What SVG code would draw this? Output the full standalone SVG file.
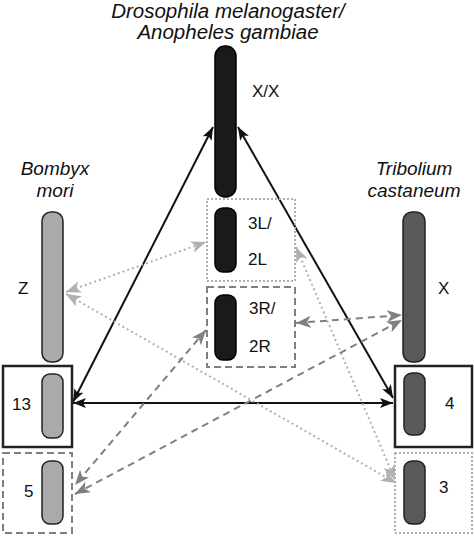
<svg xmlns="http://www.w3.org/2000/svg" width="474" height="536" viewBox="0 0 474 536">
<style>
text{font-family:"Liberation Sans",Arial,sans-serif;fill:#111}
.sp{font-size:19px;font-style:italic}
.tt{font-size:20.5px;font-style:italic}
.lb{font-size:17px}
.cb{fill:#1a1a1a;stroke:#000;stroke-width:1.5}
.cg{fill:#aaaaaa;stroke:#222;stroke-width:1.5}
.cd{fill:#595959;stroke:#222;stroke-width:1.5}
.bs{fill:none;stroke:#222;stroke-width:2.5}
.bdot{fill:none;stroke:#b0b0b0;stroke-width:2;stroke-dasharray:2 2}
.bdash{fill:none;stroke:#808080;stroke-width:2;stroke-dasharray:7 4}
.ls{stroke:#111;stroke-width:2;fill:none}
.ldot{stroke:#b0b0b0;stroke-width:2;stroke-dasharray:2 3;fill:none}
.ldash{stroke:#808080;stroke-width:2;stroke-dasharray:7 5;fill:none}
</style>
<defs>
<marker id="ab" markerUnits="userSpaceOnUse" markerWidth="14" markerHeight="10" refX="13" refY="5" orient="auto-start-reverse" viewBox="0 0 14 10"><path d="M0,0 L13,5 L0,10 L3,5 z" fill="#111"/></marker>
<marker id="ag" markerUnits="userSpaceOnUse" markerWidth="16" markerHeight="12" refX="15" refY="6" orient="auto-start-reverse" viewBox="0 0 16 12"><path d="M0,0 L15,6 L0,12 L4,6 z" fill="#b0b0b0"/></marker>
<marker id="ad" markerUnits="userSpaceOnUse" markerWidth="16" markerHeight="12" refX="15" refY="6" orient="auto-start-reverse" viewBox="0 0 16 12"><path d="M0,0 L15,6 L0,12 L4,6 z" fill="#808080"/></marker>
</defs>
<g id="titles">
<text class="tt" x="228" y="18" text-anchor="middle">Drosophila melanogaster/</text>
<text class="tt" x="228" y="39" text-anchor="middle">Anopheles gambiae</text>
<text class="sp" x="55" y="175" text-anchor="middle">Bombyx</text>
<text class="sp" x="55" y="197" text-anchor="middle">mori</text>
<text class="sp" x="414" y="175" text-anchor="middle">Tribolium</text>
<text class="sp" x="414" y="197" text-anchor="middle">castaneum</text>
</g>
<g id="connectors">
<line class="ls" x1="213" y1="127" x2="73" y2="402" marker-start="url(#ab)" marker-end="url(#ab)"/>
<line class="ls" x1="238" y1="127" x2="393" y2="398" marker-start="url(#ab)" marker-end="url(#ab)"/>
<line class="ls" x1="73" y1="403" x2="393" y2="403" marker-start="url(#ab)" marker-end="url(#ab)"/>
<line class="ldot" x1="66" y1="292" x2="206" y2="242" marker-start="url(#ag)" marker-end="url(#ag)"/>
<line class="ldot" x1="66" y1="294" x2="396" y2="483" marker-start="url(#ag)" marker-end="url(#ag)"/>
<line class="ldot" x1="296" y1="247" x2="395" y2="480" marker-start="url(#ag)" marker-end="url(#ag)"/>
<line class="ldash" x1="206" y1="330" x2="75" y2="485" marker-start="url(#ad)" marker-end="url(#ad)"/>
<line class="ldash" x1="296" y1="323" x2="402" y2="315" marker-start="url(#ad)" marker-end="url(#ad)"/>
<line class="ldash" x1="75" y1="494" x2="402" y2="320" marker-start="url(#ad)" marker-end="url(#ad)"/>
</g>
<g id="dm-X">
<rect class="cb" x="215" y="46" width="21" height="151" rx="10"/>
<text class="lb" x="252" y="97">X/X</text>
</g>
<g id="dm-3L">
<rect class="bdot" x="207" y="199" width="88" height="82"/>
<rect class="cb" x="215" y="208" width="21" height="64" rx="8"/>
<text class="lb" x="248" y="229">3L/</text>
<text class="lb" x="248" y="265">2L</text>
</g>
<g id="dm-3R">
<rect class="bdash" x="207" y="287" width="88" height="80"/>
<rect class="cb" x="215" y="295" width="21" height="65" rx="8"/>
<text class="lb" x="249" y="314">3R/</text>
<text class="lb" x="249" y="352">2R</text>
</g>
<g id="bm-Z">
<rect class="cg" x="42" y="212" width="21" height="150" rx="9"/>
<text class="lb" x="18" y="294">Z</text>
</g>
<g id="bm-13">
<rect class="bs" x="3" y="366" width="69" height="81"/>
<rect class="cg" x="42" y="374" width="21" height="64" rx="8"/>
<text class="lb" x="12" y="410">13</text>
</g>
<g id="bm-5">
<rect class="bdash" x="3" y="453" width="69" height="80"/>
<rect class="cg" x="42" y="461" width="21" height="63" rx="8"/>
<text class="lb" x="24" y="497">5</text>
</g>
<g id="tc-X">
<rect class="cd" x="403" y="212" width="22" height="150" rx="9"/>
<text class="lb" x="438" y="294">X</text>
</g>
<g id="tc-4">
<rect class="bs" x="395" y="366" width="77" height="81"/>
<rect class="cd" x="404" y="373" width="21" height="62" rx="8"/>
<text class="lb" x="445" y="409">4</text>
</g>
<g id="tc-3">
<rect class="bdot" x="395" y="453" width="77" height="80"/>
<rect class="cd" x="404" y="461" width="21" height="63" rx="8"/>
<text class="lb" x="439" y="493">3</text>
</g>
</svg>
